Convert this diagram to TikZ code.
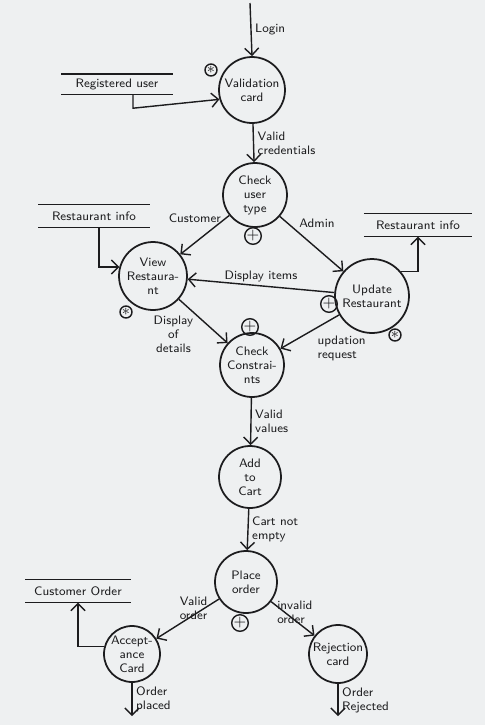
\documentclass[tikz,border=0pt]{standalone}
\usepackage{tikz}
\usetikzlibrary{arrows.meta,positioning,calc}
\definecolor{paper}{RGB}{238,240,241}
\definecolor{ink}{RGB}{28,28,30}

\begin{document}
\begin{tikzpicture}[
  x=0.02cm, y=-0.02cm,
  proc/.style={draw, circle, inner sep=0pt, align=center,
               font=\scriptsize\sffamily, line width=1pt},
  store/.style={minimum width=2.2cm, minimum height=0.44cm,
                font=\scriptsize\sffamily, inner sep=1pt},
  lbl/.style={font=\scriptsize\sffamily, align=left, inner sep=2pt},
  starmk/.style={draw, circle, inner sep=0pt, minimum size=0.24cm, font=\small},
  >={Straight Barb[length=4pt]}, thick, color=ink
]
  \fill[paper] (0,0) rectangle (485,725);

  % processes
  \node[proc, minimum size=1.32cm] (val) at (252,90)  {Validation\\card};
  \node[proc, minimum size=1.28cm] (cut) at (255,195) {Check\\user\\type};
  \node[proc, minimum size=1.36cm] (vr)  at (153,276) {View\\Restaura-\\nt};
  \node[proc, minimum size=1.48cm] (ur)  at (372,296) {Update\\Restaurant};
  \node[proc, minimum size=1.28cm] (cc)  at (252,365) {Check\\Constrai-\\nts};
  \node[proc, minimum size=1.24cm] (atc) at (250,477) {Add\\to\\Cart};
  \node[proc, minimum size=1.24cm] (po)  at (246,582) {Place\\order};
  \node[proc, minimum size=1.12cm] (ac)  at (132,654) {Accept-\\ance\\Card};
  \node[proc, minimum size=1.16cm] (rc)  at (338,654) {Rejection\\card};

  % data stores
  \node[store, minimum height=0.38cm] (ru)  at (117,84)  {Registered user};
  \node[store] (ri1) at (94,216)  {Restaurant info};
  \node[store, minimum width=2.14cm] (ri2) at (418,225) {Restaurant info};
  \node[store, minimum width=2.08cm] (co)  at (78,591)  {Customer Order};
  \foreach \s in {ru,ri1,ri2,co}
    \draw (\s.north west) -- (\s.north east) (\s.south west) -- (\s.south east);

  % markers
  \node[starmk] (m1) at (211,70)  {$\ast$};
  \node[starmk] (m2) at (253,236) {$+$};
  \node[starmk] (m3) at (126,312) {$\ast$};
  \node[starmk] (m4) at (329,304) {$+$};
  \node[starmk] (m5) at (395,335) {$\ast$};
  \node[starmk] (m6) at (250,327) {$+$};
  \node[starmk] (m7) at (240,623) {$+$};

  % free ends
  \coordinate (login) at (250,3);
  \coordinate (placed) at (132,716);
  \coordinate (rejected) at (338,716);

  \draw[->] (login) -- (val.north) node[lbl, pos=0.5, right]{Login};
  \draw[->] ($(ru.south)+(16,0)$) -- ++(0,14) -- (val.196);
  \draw[->] (val) -- (cut) node[lbl, midway, right]{Valid\\credentials};
  \draw[->] (cut) -- (vr) node[lbl, pos=0.3, above left, xshift=6pt]{Customer};
  \draw[->] (cut) -- (ur) node[lbl, pos=0.35, above right, xshift=-4pt, yshift=2pt]{Admin};
  \draw[->] (ur) -- (vr) node[lbl, midway, above]{Display items};
  \draw[->] ($(ri1.south)+(5,0)$) |- (vr.165);
  \draw[->] (ur.40) -| (ri2.south);
  \draw[->] (vr) -- (cc) node[lbl, align=center, pos=0.45, below left, xshift=-2pt, yshift=4pt]{Display\\of\\details};
  \draw[->] (ur) -- (cc) node[lbl, pos=0.5, below right, xshift=2pt]{updation\\request};
  \draw[->] (cc) -- (atc) node[lbl, midway, right]{Valid\\values};
  \draw[->] (atc) -- (po) node[lbl, midway, right]{Cart not\\empty};
  \draw[->] (po) -- (ac) node[lbl, pos=0.35, above, xshift=-2pt, yshift=-6pt]{Valid\\order};
  \draw[->] (po) -- (rc) node[lbl, pos=0.45, above right, xshift=-10pt, yshift=-6pt]{invalid\\order};
  \draw[->] (ac.165) -| (co.south);
  \draw[->] (ac) -- (placed) node[lbl, midway, right]{Order\\placed};
  \draw[->] (rc) -- (rejected) node[lbl, midway, right]{Order\\Rejected};
\end{tikzpicture}
\end{document}
